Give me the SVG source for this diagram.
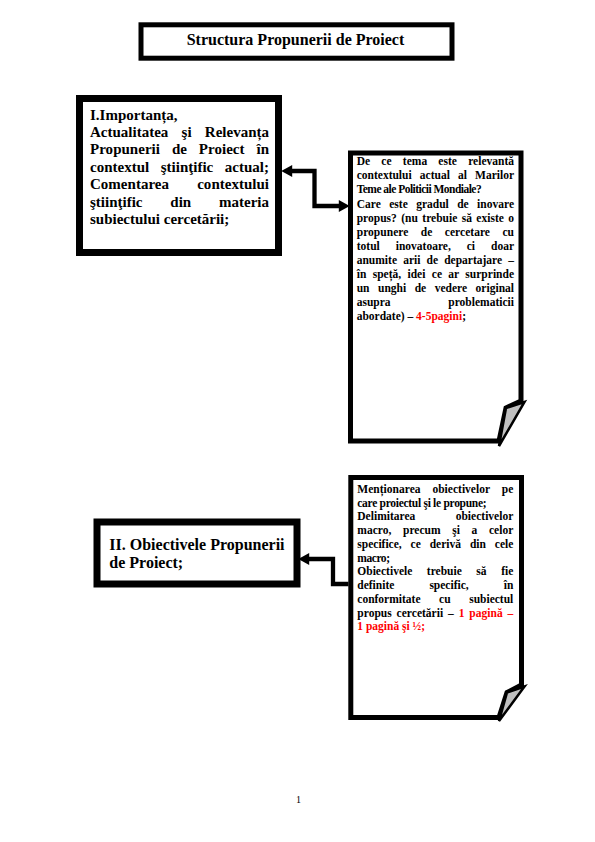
<svg xmlns="http://www.w3.org/2000/svg" width="595" height="842" viewBox="0 0 595 842">
<style>
.t{font-family:"Liberation Serif","Times New Roman",serif;font-weight:bold;fill:#000}
.s15{font-size:15px}
.s16{font-size:16px}
.s11{font-size:11.5px}
.r{fill:#ff0000}
.frame{fill:#fff;stroke:#000;stroke-linejoin:miter}
.fold{fill:#c0c0c0;stroke:#000;stroke-width:2.5;stroke-linejoin:miter}
.conn{fill:none;stroke:#000;stroke-width:4.3;stroke-linejoin:miter}
</style>
<defs>
<marker id="ah" markerUnits="userSpaceOnUse" markerWidth="12" markerHeight="12" viewBox="0 0 10 11" refX="2" refY="5.5" orient="auto-start-reverse">
<path d="M0,0 L10,5.5 L0,11 Z" fill="#000"/>
</marker>
</defs>
<rect width="595" height="842" fill="#fff"/>

<g id="title">
<rect class="frame" x="141" y="24.8" width="311" height="33.4" stroke-width="5"/>
<text class="t s16" x="295.5" y="44.5" text-anchor="middle">Structura Propunerii de Proiect</text>
</g>

<g id="box1">
<rect class="frame" x="79.5" y="98.5" width="199" height="154" stroke-width="7"/>
<text class="t s15" x="90" y="119.5">I.Importanța,</text>
<text class="t s15" x="90" y="136.9" word-spacing="9.5" textLength="179" lengthAdjust="spacing">Actualitatea şi Relevanța</text>
<text class="t s15" x="90" y="154.3" word-spacing="8.1" textLength="179" lengthAdjust="spacing">Propunerii de Proiect în</text>
<text class="t s15" x="90" y="171.7" word-spacing="7.8" textLength="179" lengthAdjust="spacing">contextul ştiinţific actual;</text>
<text class="t s15" x="90" y="189.1" word-spacing="24.4" textLength="179" lengthAdjust="spacing">Comentarea contextului</text>
<text class="t s15" x="90" y="206.5" word-spacing="24.1" textLength="179" lengthAdjust="spacing">ştiinţific din materia</text>
<text class="t s15" x="90" y="223.9">subiectului cercetării;</text>
</g>

<g id="page1">
<path class="frame" stroke-width="5" d="M350.5,153 H521 V401 L506,408 L499,441 H350.5 Z"/>
<polygon class="fold" points="506,408 524.5,402 499,446"/>
<text class="t s11" x="356.7" y="165.2" word-spacing="8.35" textLength="157.3" lengthAdjust="spacing">De ce tema este relevantă</text>
<text class="t s11" x="356.7" y="179.3" word-spacing="5.27" textLength="157.3" lengthAdjust="spacing">contextului actual al Marilor</text>
<text class="t s11" x="356.7" y="193.4" textLength="125" lengthAdjust="spacing">Teme ale Politicii Mondiale?</text>
<text class="t s11" x="356.7" y="207.5" word-spacing="5.47" textLength="157.3" lengthAdjust="spacing">Care este gradul de inovare</text>
<text class="t s11" x="356.7" y="221.6" word-spacing="1.5" textLength="157.3" lengthAdjust="spacing">propus? (nu trebuie să existe o</text>
<text class="t s11" x="356.7" y="235.7" word-spacing="9.54" textLength="157.3" lengthAdjust="spacing">propunere de cercetare cu</text>
<text class="t s11" x="356.7" y="249.8" word-spacing="13.04" textLength="157.3" lengthAdjust="spacing">totul inovatoare, ci doar</text>
<text class="t s11" x="356.7" y="263.9" word-spacing="3.23" textLength="157.3" lengthAdjust="spacing">anumite arii de departajare –</text>
<text class="t s11" x="356.7" y="278" word-spacing="3.48" textLength="157.3" lengthAdjust="spacing">în speță, idei ce ar surprinde</text>
<text class="t s11" x="356.7" y="292.1" word-spacing="5.62" textLength="157.3" lengthAdjust="spacing">un unghi de vedere original</text>
<text class="t s11" x="356.7" y="306.2" word-spacing="54.76" textLength="157.3" lengthAdjust="spacing">asupra problematicii</text>
<text class="t s11" x="356.7" y="320.3">abordate) – <tspan class="r">4-5pagini</tspan>;</text>
</g>

<g id="box2">
<rect class="frame" x="97" y="522" width="200" height="62" stroke-width="7"/>
<text class="t s16" x="109.3" y="550">II. Obiectivele Propunerii</text>
<text class="t s16" x="109.3" y="568.4">de Proiect;</text>
</g>

<g id="page2">
<path class="frame" stroke-width="5" d="M350.8,477.5 H521.5 V685 L507,692.5 L499,717.5 H350.8 Z"/>
<polygon class="fold" points="507,692.5 524.5,686.5 499,721"/>
<text class="t s11" x="357.3" y="492.8" word-spacing="9" textLength="156" lengthAdjust="spacing">Menționarea obiectivelor pe</text>
<text class="t s11" x="357.3" y="506.55" textLength="129.3" lengthAdjust="spacing">care proiectul şi le propune;</text>
<text class="t s11" x="357.3" y="520.3" word-spacing="37.5" textLength="156" lengthAdjust="spacing">Delimitarea obiectivelor</text>
<text class="t s11" x="357.3" y="534.05" word-spacing="8.74" textLength="156" lengthAdjust="spacing">macro, precum şi a celor</text>
<text class="t s11" x="357.3" y="547.8" word-spacing="6.03" textLength="156" lengthAdjust="spacing">specifice, ce derivă din cele</text>
<text class="t s11" x="357.3" y="561.55" textLength="32.7" lengthAdjust="spacing">macro;</text>
<text class="t s11" x="357.3" y="575.3" word-spacing="11.65" textLength="156" lengthAdjust="spacing">Obiectivele trebuie să fie</text>
<text class="t s11" x="357.3" y="589.05" word-spacing="32.2" textLength="156" lengthAdjust="spacing">definite specific, în</text>
<text class="t s11" x="357.3" y="602.8" word-spacing="15.72" textLength="156" lengthAdjust="spacing">conformitate cu subiectul</text>
<text class="t s11" x="357.3" y="616.55" word-spacing="2" textLength="156" lengthAdjust="spacing">propus cercetării – <tspan class="r">1 pagină –</tspan></text>
<text class="t s11 r" x="357.3" y="630.3">1 pagină şi ½;</text>
</g>

<g id="connectors">
<path class="conn" d="M290,171 H314.5 V206 H341" marker-start="url(#ah)" marker-end="url(#ah)"/>
<path class="conn" d="M348.5,584 H333 V559 H307" marker-end="url(#ah)"/>
</g>

<text x="298.5" y="803.3" font-family="Liberation Serif, Times New Roman, serif" font-size="10" text-anchor="middle">1</text>
</svg>
